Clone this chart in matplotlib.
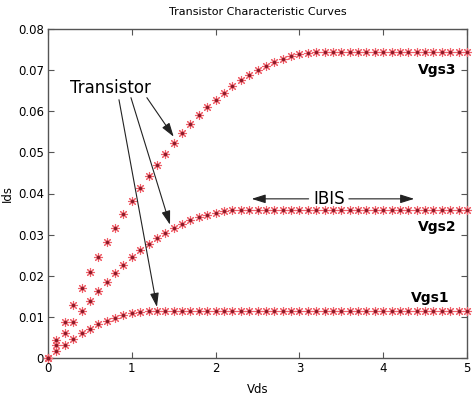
import matplotlib.pyplot as plt
import numpy as np

vds = [round(0.1 * i, 1) for i in range(51)]

ids_vgs1 = [0, 0.0017, 0.00326, 0.00469, 0.00598, 0.00714, 0.00816, 0.00904,
            0.00979, 0.0104, 0.01088, 0.01122, 0.01142, 0.01149] + [0.01149] * 37
ids_vgs2 = [0, 0.00306, 0.00598, 0.00877, 0.01142, 0.01394, 0.01632, 0.01856,
            0.02067, 0.02264, 0.02448, 0.02618, 0.02774, 0.02917, 0.03046,
            0.03162, 0.03264, 0.03352, 0.03427, 0.03488, 0.03536, 0.0357,
            0.0359, 0.03597] + [0.03597] * 27
ids_vgs3 = [0, 0.00443, 0.00873, 0.01289, 0.01692, 0.02081, 0.02456, 0.02818,
            0.03166, 0.03501, 0.03822, 0.04129, 0.04423, 0.04703, 0.04969,
            0.05222, 0.05462, 0.05688, 0.059, 0.06098, 0.06283, 0.06455,
            0.06612, 0.06756, 0.06887, 0.07004, 0.07107, 0.07197, 0.07273,
            0.07336, 0.07385, 0.0742, 0.07442, 0.0745] + [0.0745] * 17

curve_labels = ["Vgs1", "Vgs2", "Vgs3"]

fig = plt.figure(figsize=(4.74, 3.97), dpi=100)
ax = fig.add_axes([48 / 474, 39 / 397, 419 / 474, 329 / 397])

for ids in [ids_vgs1, ids_vgs2, ids_vgs3]:
    ax.plot(vds, ids, linestyle="none", marker=(8, 2, 0), markersize=6.5,
            color="#f0606a", markeredgewidth=0.8, clip_on=False, zorder=3)
    ax.plot(vds, ids, linestyle="none", marker="o", markersize=1.5,
            color="#8a1a28", clip_on=False, zorder=4)

ax.set_xlim(0, 5)
ax.set_ylim(0, 0.08)
ax.set_xticks([0, 1, 2, 3, 4, 5])
ax.set_yticks(np.arange(0, 0.081, 0.01))
ax.set_yticklabels(["0", "0.01", "0.02", "0.03", "0.04", "0.05", "0.06", "0.07", "0.08"])
ax.tick_params(direction="in", top=True, right=True, labelsize=8.5, length=4,
               color="#555555", pad=3)
for s in ax.spines.values():
    s.set_color("#555555")
    s.set_linewidth(1.0)

ax.set_title("Transistor Characteristic Curves", fontsize=8, pad=10)
ax.set_xlabel("Vds", fontsize=8.5)
ax.set_ylabel("Ids", fontsize=8.5)
ax.xaxis.set_label_coords(0.5, -0.075)
ax.yaxis.set_label_coords(-0.082, 0.5)

# Transistor annotation with three arrows
ax.text(0.74, 0.0657, "Transistor", fontsize=12, ha="center", va="center")
arrow_kw = dict(arrowstyle="-|>,head_width=0.22,head_length=0.7", color="#222222",
                lw=0.8, mutation_scale=12, shrinkA=0, shrinkB=0)
ax.annotate("", xy=(1.50, 0.0538), xytext=(1.18, 0.0633), arrowprops=arrow_kw)
ax.annotate("", xy=(1.456, 0.0324), xytext=(0.99, 0.0633), arrowprops=arrow_kw)
ax.annotate("", xy=(1.30, 0.0124), xytext=(0.847, 0.0628), arrowprops=arrow_kw)

# IBIS annotation
ax.text(3.36, 0.0387, "IBIS", fontsize=12, ha="center", va="center")
ax.annotate("", xy=(2.43, 0.0387), xytext=(3.11, 0.0387), arrowprops=arrow_kw)
ax.annotate("", xy=(4.37, 0.0387), xytext=(3.59, 0.0387), arrowprops=arrow_kw)

# curve labels
ax.text(4.87, 0.0700, curve_labels[2], fontsize=10, fontweight="bold", ha="right", va="center")
ax.text(4.87, 0.0319, curve_labels[1], fontsize=10, fontweight="bold", ha="right", va="center")
ax.text(4.79, 0.0146, curve_labels[0], fontsize=10, fontweight="bold", ha="right", va="center")

fig.savefig("out.png", dpi=100)
